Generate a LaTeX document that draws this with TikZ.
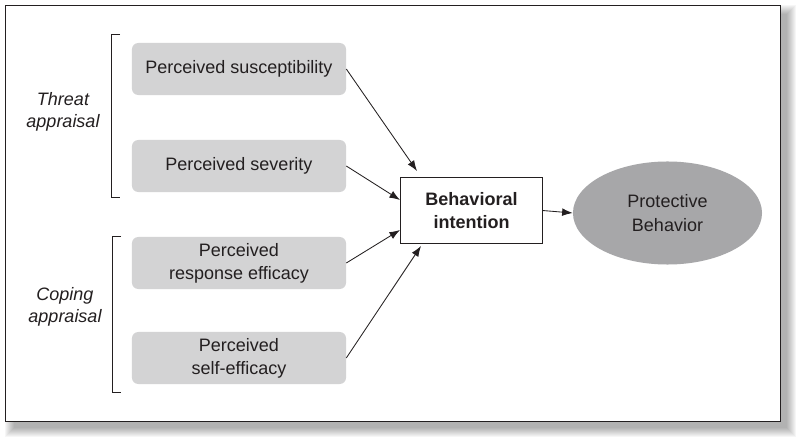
\documentclass[tikz,border=0pt]{standalone}
\usepackage{fontspec}
\setmainfont{Liberation Sans}
\usetikzlibrary{arrows.meta,positioning,shapes.geometric}
\definecolor{boxgray}{RGB}{211,211,212}
\definecolor{ovalgray}{RGB}{167,167,169}
\definecolor{ink}{RGB}{35,31,32}

\begin{document}
\begin{tikzpicture}[x=0.025cm,y=-0.025cm,>={Latex[length=7.5pt,width=5.5pt]},
  txt/.style={text=ink,align=center,font=\fontsize{12.8}{16.5}\selectfont},
  factor/.style={txt,fill=boxgray,rounded corners=4.5pt,inner sep=0pt,
    minimum width=5.35cm,minimum height=1.3cm},
  mediator/.style={txt,draw=ink,line width=0.7pt,fill=white,inner sep=0pt,
    minimum width=3.525cm,minimum height=1.625cm,
    font=\fontsize{12.8}{16.5}\selectfont\bfseries},
  outcome/.style={txt,ellipse,fill=ovalgray,inner sep=0pt,
    minimum width=4.725cm,minimum height=2.575cm},
  groupname/.style={txt,font=\fontsize{12.8}{15.5}\selectfont\itshape},
  bracket/.style={draw=ink,line width=0.6pt},
  link/.style={draw=ink,line width=0.6pt,->}]
  \useasboundingbox (0,0) rectangle (797,439);
  % soft shadow and frame
  \foreach \r in {0,...,9}
    \fill[black,opacity=0.035] (14-\r,14-\r) rectangle (787+\r,428+\r);
  \draw[fill=white,draw=ink,line width=0.7pt] (5,5) rectangle (780,421);

  % the four appraisals
  \node[factor] (sus) at (239,69) {Perceived susceptibility};
  \node[factor] (sev) at (239,166) {Perceived severity};
  \node[factor] (resp) at (239,263) {Perceived\\response efficacy};
  \node[factor] (self) at (239,358) {Perceived\\self-efficacy};

  \node[mediator] (intent) at (471.5,210.5) {Behavioral\\intention};
  \node[outcome] (behav) at (667.5,213) {Protective\\Behavior};

  % group brackets
  \node[groupname] (threat) at (63,112) {Threat\\appraisal};
  \node[groupname] (coping) at (65,307) {Coping\\appraisal};
  \draw[bracket] (120,34) -- (111,34) -- (111,197) -- (120,197);
  \draw[bracket] (121,236) -- (112,236) -- (112,392) -- (121,392);

  % arrows into the intention
  \coordinate (in1) at (417,171);
  \coordinate (in2) at (400,200);
  \coordinate (in3) at (400,230);
  \coordinate (in4) at (421,246);
  \draw[link] (sus.east) -- (in1);
  \draw[link] (sev.east) -- (in2);
  \draw[link] (resp.east) -- (in3);
  \draw[link] (self.east) -- (in4);
  \draw[link] (intent.east) -- (behav.west);
\end{tikzpicture}
\end{document}
